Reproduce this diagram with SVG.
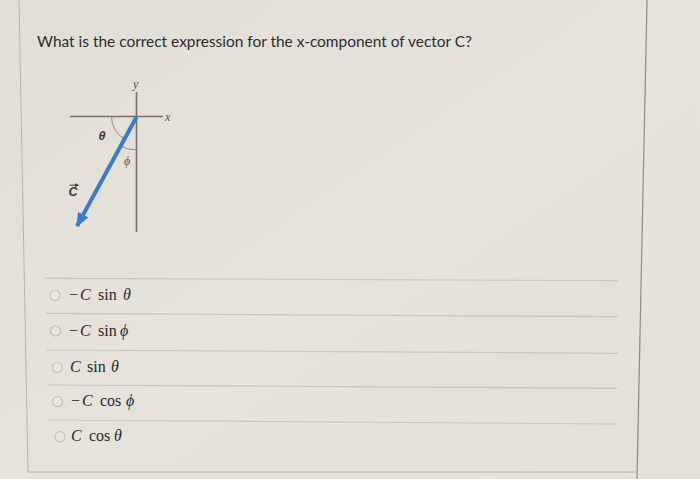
<svg xmlns="http://www.w3.org/2000/svg" width="700" height="479" viewBox="0 0 700 479">
<defs>
<linearGradient id="bg" x1="0" y1="0" x2="1" y2="1">
<stop offset="0" stop-color="#e1ded7"/>
<stop offset="0.5" stop-color="#e6e3dc"/>
<stop offset="1" stop-color="#e3e0d9"/>
</linearGradient>
<marker id="head" viewBox="0 0 14 12" refX="13" refY="6" markerWidth="14" markerHeight="12" markerUnits="userSpaceOnUse" orient="auto">
<path d="M0,0 L14,6 L0,12 Z" fill="#3b7bc8"/>
</marker>
<marker id="tiny" viewBox="0 0 4 4" refX="3.5" refY="2" markerWidth="4" markerHeight="4" markerUnits="userSpaceOnUse" orient="auto">
<path d="M0,0 L4,2 L0,4 Z" fill="#3a3835"/>
</marker>
</defs>
<style>
.title{font-family:Lato,"Liberation Sans",sans-serif;font-size:16px;fill:#2e2d2b}
.sep{stroke:#c9c6be;stroke-width:1.2}
.radio{fill:#e9e7e2;stroke:#c4c1ba;stroke-width:1.2}
.m{font-family:"Liberation Serif","DejaVu Serif",serif;font-size:16px;fill:#2a2928}
.i{font-style:italic}
.axis{stroke:#74706b;stroke-width:1.6;fill:none}
.arc{stroke:#8f8b85;stroke-width:1;fill:none}
.lbl{font-family:"Liberation Serif",serif;font-style:italic;font-size:12px;fill:#55524e}
.glbl{font-family:"Liberation Sans",sans-serif;font-weight:bold;font-style:italic;font-size:12.5px;fill:#3a3835}
</style>
<rect width="700" height="479" fill="url(#bg)"/>
<g id="frame">
<line x1="19" y1="0" x2="28" y2="472" stroke="#b8b5ae" stroke-width="1"/>
<line x1="647" y1="0" x2="637" y2="479" stroke="#8e8b86" stroke-width="1.2"/>
<line x1="28" y1="472" x2="637" y2="472" stroke="#c6c3bb" stroke-width="1.5"/>
</g>
<text class="title" x="37" y="47" textLength="435" lengthAdjust="spacingAndGlyphs">What is the correct expression for the x-component of vector C?</text>
<g id="diagram">
<g id="axes">
<line class="axis" x1="70" y1="116.5" x2="163" y2="116.5"/>
<line class="axis" x1="136.5" y1="92" x2="136.5" y2="232"/>
<text class="lbl" x="165" y="121">x</text>
<text class="lbl" x="133" y="88">y</text>
</g>
<g id="angles">
<path class="arc" d="M111.5,117 A25,25 0 0 0 124.5,138.9"/>
<path class="arc" d="M120.7,146 A33,33 0 0 0 136.5,150"/>
<text class="glbl" x="102" y="139.5" text-anchor="middle">θ</text>
<text class="lbl" x="127" y="165" text-anchor="middle" font-size="14">ϕ</text>
</g>
<g id="vectorC">
<line x1="136.5" y1="117" x2="77" y2="226" stroke="#3b7bc8" stroke-width="4" marker-end="url(#head)"/>
<text class="glbl" x="73" y="196" text-anchor="middle">C</text>
<path d="M69.5,185.2 L78.5,185.2" stroke="#3a3835" stroke-width="1" marker-end="url(#tiny)"/>
</g>
</g>
<g id="separators">
<line class="sep" x1="45" y1="278.3" x2="618" y2="280.7"/>
<line class="sep" x1="46" y1="313.3" x2="618" y2="316.7"/>
<line class="sep" x1="46" y1="350" x2="618" y2="353.3"/>
<line class="sep" x1="47" y1="385" x2="617" y2="388.3"/>
<line class="sep" x1="48" y1="420" x2="617" y2="424"/>
</g>
<g id="option1">
<circle class="radio" cx="55" cy="295.5" r="5"/>
<text class="m" y="300"><tspan x="69">−</tspan><tspan class="i" x="80">C</tspan><tspan x="98">sin</tspan><tspan class="i" x="123">θ</tspan></text>
</g>
<g id="option2">
<circle class="radio" cx="55.5" cy="331" r="5"/>
<text class="m" y="336"><tspan x="69">−</tspan><tspan class="i" x="80">C</tspan><tspan x="98">sin</tspan><tspan class="i" x="120">ϕ</tspan></text>
</g>
<g id="option3">
<circle class="radio" cx="57.3" cy="367.5" r="5"/>
<text class="m" y="372"><tspan class="i" x="70">C</tspan><tspan x="87">sin</tspan><tspan class="i" x="111">θ</tspan></text>
</g>
<g id="option4">
<circle class="radio" cx="57.5" cy="401.7" r="5"/>
<text class="m" y="406"><tspan x="71">−</tspan><tspan class="i" x="82">C</tspan><tspan x="100">cos</tspan><tspan class="i" x="126">ϕ</tspan></text>
</g>
<g id="option5">
<circle class="radio" cx="60" cy="436.7" r="5"/>
<text class="m" y="441"><tspan class="i" x="71">C</tspan><tspan x="89">cos</tspan><tspan class="i" x="114">θ</tspan></text>
</g>
</svg>
